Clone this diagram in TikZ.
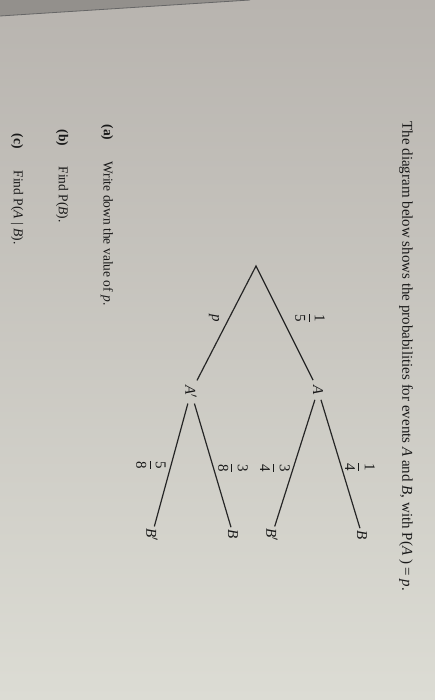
\documentclass[tikz,border=0pt]{standalone}
\usepackage{amsmath}
\usepackage{fontspec}
\setmainfont{Liberation Serif}
\usetikzlibrary{positioning}

\definecolor{paperTop}{RGB}{184,180,175}
\definecolor{paperMid}{RGB}{204,202,196}
\definecolor{paperBot}{RGB}{220,220,212}

\begin{document}
\begin{tikzpicture}[x=1pt,y=-1pt,
    txt/.style={rotate=-90,text=black!90,font=\fontsize{15}{18}\selectfont},
    ques/.style={txt,anchor=west,font=\fontsize{13.5}{16}\selectfont},
    ev/.style={txt,inner sep=5pt},
    leaf/.style={txt,inner sep=2pt},
    br/.style={line width=1.2pt,black!85}]
  \useasboundingbox (0,0) rectangle (435,700);
  \shade[top color=paperTop,middle color=paperMid,bottom color=paperBot] (0,0) rectangle (435,700);
  % edge of the sheet
  \fill[black!20!paperTop] (0,0) -- (0,16) -- (250,0) -- cycle;
  \draw[black!60,line width=0.8pt] (0,16) -- (250,0);

  % heading
  \node[txt,anchor=west] (title) at (406,118) {The diagram below shows the probabilities for events \textit{A} and \textit{B}, with P(\textit{A} ) = \textit{p}.};

  % tree
  \coordinate (root) at (256,266);
  \node[ev] (A) at (318,390) {\textit{A}};
  \node[ev] (Ac) at (191,392) {\textit{A}$'$};
  \node[leaf] (AB) at (362,535) {\textit{B}};
  \node[leaf] (ABc) at (272,535) {\textit{B}$'$};
  \node[leaf] (AcB) at (233,534) {\textit{B}};
  \node[leaf] (AcBc) at (152,535) {\textit{B}$'$};
  \draw[br] (A) -- (root) -- (Ac);
  \draw[br] (AB) -- (A) -- (ABc);
  \draw[br] (AcB) -- (Ac) -- (AcBc);

  % probabilities
  \node[txt] (pA) at (310,318) {$\dfrac{\text{1}}{\text{5}}$};
  \node[txt] (pAc) at (214,318) {\textit{p}};
  \node[txt] (pAB) at (360,467) {$\dfrac{\text{1}}{\text{4}}$};
  \node[txt] (pABc) at (275,468) {$\dfrac{\text{3}}{\text{4}}$};
  \node[txt] (pAcB) at (233,468) {$\dfrac{\text{3}}{\text{8}}$};
  \node[txt] (pAcBc) at (151,465) {$\dfrac{\text{5}}{\text{8}}$};

  % questions
  \foreach \qx/\qy/\q/\t in {107/121/a/{Write down the value of \textit{p}.},
                             62/126/b/{Find P(\textit{B}).},
                             17/130/c/{Find P(\textit{A} | \textit{B}).}}
  {
    \node[ques] (q\q) at (\qx,\qy) {\textbf{(\q)}};
    \node[ques] (t\q) at (\qx,\qy+37) {\t};
  }
\end{tikzpicture}
\end{document}
